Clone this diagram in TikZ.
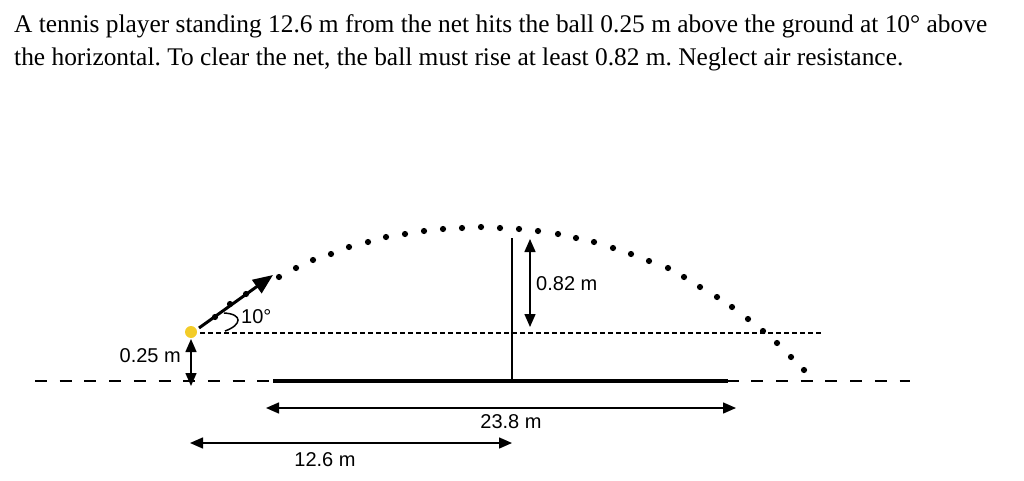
\documentclass[tikz,border=0pt]{standalone}
\usepackage{fontspec}
\setmainfont{Liberation Serif}
\newfontfamily\labelfont{Liberation Sans}
\usetikzlibrary{arrows.meta}
\definecolor{ballyellow}{RGB}{243,204,40}
\frenchspacing
\begin{document}
\begin{tikzpicture}[x=1pt,y=-1pt,
  lbl/.style={font=\labelfont\fontsize{20}{24}\selectfont,inner sep=0pt},
  ttl/.style={font=\fontsize{25.4}{30}\selectfont,inner sep=0pt,anchor=base west},
  dimarrow/.style={line width=1.5pt,{Triangle[length=13pt,width=11pt]}-{Triangle[length=13pt,width=11pt]}},
  trajdot/.style={fill=black},
]
\useasboundingbox (0,0) rectangle (1024,481);
% title
\node[ttl] (t1) at (14,33) {A tennis player standing 12.6 m from the net hits the ball 0.25 m above the ground at 10° above};
\node[ttl] (t2) at (14,66) {the horizontal. To clear the net, the ball must rise at least 0.82 m. Neglect air resistance.};
% ground
\coordinate (gl) at (35,381);
\coordinate (gr) at (910,381);
\draw[line width=1.5pt,dash pattern=on 12pt off 12.7pt] (gl) -- (gr);
\coordinate (cl) at (273,381);
\coordinate (cr) at (728,381);
\draw[line width=4pt] (cl) -- (cr);
% dotted launch-height line
\coordinate (dl) at (200,333);
\coordinate (dr) at (824,333);
\draw[line width=1.5pt,dash pattern=on 4.5pt off 3.5pt] (dl) -- (dr);
% net
\coordinate (nettop) at (512,238);
\coordinate (netbot) at (512,381);
\draw[line width=1.8pt] (nettop) -- (netbot);
% 0.82 m arrow
\coordinate (h1) at (530,239);
\coordinate (h2) at (530,327);
\draw[dimarrow] (h1) -- (h2);
\node[lbl,anchor=west] (l082) at (536,284) {0.82 m};
% ball
\node[circle,fill=ballyellow,minimum size=12pt,inner sep=0pt] (ball) at (191,332) {};
% 0.25 m arrow
\coordinate (b1) at (191,339);
\coordinate (b2) at (191,386);
\draw[dimarrow] (b1) -- (b2);
\node[lbl,anchor=east] (l025) at (181,356) {0.25 m};
% velocity arrow
\coordinate (v0) at (199,328);
\coordinate (v1) at (273,275);
\draw[line width=3pt,-{Triangle[length=20pt,width=16pt]}] (v0) -- (v1);
% angle arc
\coordinate (a0) at (225,331);
\coordinate (a1) at (224,313);
\draw[line width=1.5pt] (a0) .. controls (242,325) and (243,314) .. (a1);
\node[lbl,anchor=west] (l10) at (241,317) {10°};
% trajectory dots
\foreach \x/\y in {215/317,230/304,246/294,279/277,296/268,313/260,331/254,349/247,368/242,386/237,405/234,424/231,443/229,462/228,481/227,500/228,519/229,538/231,558/234,576/238,594/242,613/248,631/254,649/261,668/268,684/277,700/287,717/297,732/307,748/319,763/331,777/343,791/357,804/370}
  \fill[trajdot] (\x,\y) circle (3.1pt);
% 23.8 m
\coordinate (d1) at (266,408);
\coordinate (d2) at (736,408);
\draw[dimarrow] (d1) -- (d2);
\node[lbl] (l238) at (511,422) {23.8 m};
% 12.6 m
\coordinate (e1) at (190,443);
\coordinate (e2) at (512,443);
\draw[dimarrow] (e1) -- (e2);
\node[lbl] (l126) at (325,460) {12.6 m};
\end{tikzpicture}
\end{document}
